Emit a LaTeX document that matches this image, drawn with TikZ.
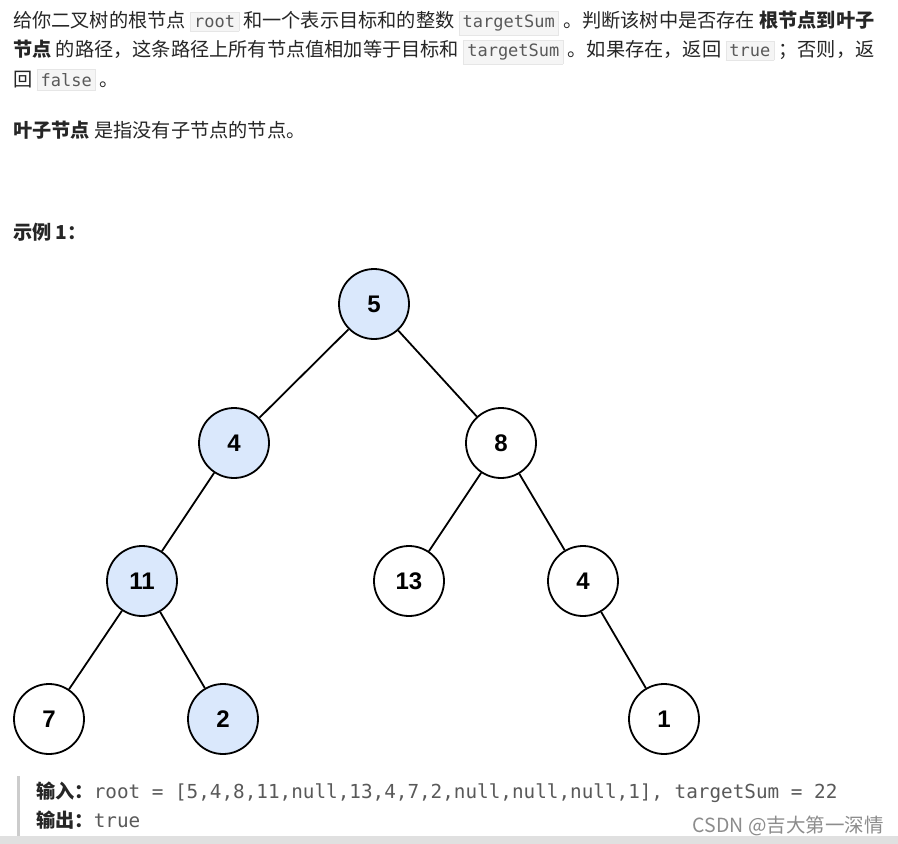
\documentclass[tikz,border=0pt]{standalone}
\usepackage{fontspec}
\setmainfont{Noto Sans CJK SC}
\setmonofont{DejaVu Sans Mono}
\newfontfamily\numfont{Liberation Sans}
\definecolor{chipbg}{HTML}{F5F5F5}
\definecolor{chipbd}{HTML}{E6E6E6}
\definecolor{txt}{HTML}{262626}
\definecolor{codec}{HTML}{595959}
\definecolor{hl}{HTML}{DAE8FC}
\newcommand\chip[1]{{\setlength\fboxsep{3.5pt}\fcolorbox{chipbd}{chipbg}{\color{codec}\ttfamily\fontsize{17}{17}\selectfont #1}}}
\begin{document}
\begin{tikzpicture}[x=1pt,y=-1pt,
  tn/.style={circle,draw=black,line width=1.8pt,minimum size=70pt,inner sep=0pt,font=\numfont\bfseries\fontsize{24}{24}\selectfont,fill=white},
  hn/.style={tn,fill=hl},
  edge/.style={line width=1.8pt,black},
  para/.style={anchor=west,inner sep=0pt,text=txt,font=\fontsize{19.2}{19.2}\selectfont}]
\useasboundingbox (0,0) rectangle (898,844);
\fill[white] (0,0) rectangle (898,844);
\node[para] (l1) at (13,23) {给你二叉树的根节点 \chip{root} 和一个表示目标和的整数 \chip{targetSum} 。判断该树中是否存在 \textbf{根节点到叶子}};
\node[para] (l2) at (13,52) {\textbf{节点} 的路径，这条路径上所有节点值相加等于目标和 \chip{targetSum} 。如果存在，返回 \chip{true} ；否则，返};
\node[para] (l3) at (13,80) {回 \chip{false} 。};
\node[para] (l4) at (13,130) {\textbf{叶子节点} 是指没有子节点的节点。};
\node[para] (l5) at (13,232) {\textbf{示例 1：}};
\node[hn] (n5) at (374,304) {5};
\node[hn] (n4) at (234,443) {4};
\node[tn] (n8) at (501,443) {8};
\node[hn] (n11) at (142,581) {11};
\node[tn] (n13) at (409,581) {13};
\node[tn] (n4b) at (583,581) {4};
\node[tn] (n7) at (49,719) {7};
\node[hn] (n2) at (223,719) {2};
\node[tn] (n1) at (664,719) {1};
\foreach \a/\b in {n5/n4,n5/n8,n4/n11,n8/n13,n8/n4b,n11/n7,n11/n2,n4b/n1}
  \draw[edge] (\a) -- (\b);
\fill[black!12] (0,836) rectangle (898,844);
\draw[black!20,line width=3pt] (18,776) -- (18,836);
\node[para] (in) at (36,792) {\textbf{输入：}{\color{codec}\ttfamily\fontsize{19.3}{19.3}\selectfont root = [5,4,8,11,null,13,4,7,2,null,null,null,1], targetSum = 22}};
\node[para] (out) at (36,820) {\textbf{输出：}{\color{codec}\ttfamily\fontsize{19.3}{19.3}\selectfont true}};
\node[anchor=east,inner sep=0pt,text=black!45,font=\fontsize{19.5}{19.5}\selectfont] (wm) at (884,826) {CSDN @吉大第一深情};
\end{tikzpicture}
\end{document}
